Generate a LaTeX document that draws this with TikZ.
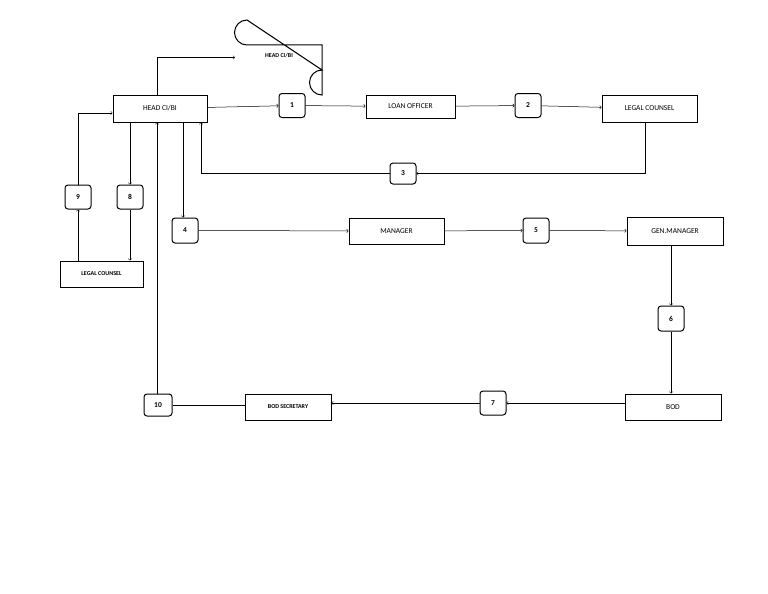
\documentclass[tikz,border=0pt]{standalone}
\usepackage{fontspec}
\setmainfont{Carlito}
\begin{document}
\begin{tikzpicture}[x=1pt,y=-1pt,
 box/.style={draw,line width=1pt,minimum height=26pt,inner sep=0pt,font=\fontsize{7.5}{8}\selectfont},
 num/.style={draw,line width=1pt,rounded corners=3pt,minimum width=26pt,minimum height=24pt,inner sep=0pt,font=\fontsize{7.5}{8}\selectfont\bfseries},
 ar/.style={->,>=to,line width=0.5pt},
 ln/.style={line width=0.5pt}]
\useasboundingbox (0,0) rectangle (768,594);
\node[box,minimum width=94pt,minimum height=27pt] (h) at (160,108.5) {HEAD CI/BI};
\node[num] (n1) at (292,105.5) {1};
\node[box,minimum width=89pt,minimum height=23pt] (lo) at (410.5,106.5) {LOAN OFFICER};
\node[num] (n2) at (528,105.5) {2};
\node[box,minimum width=95pt,minimum height=27pt] (lc) at (649.5,108.5) {LEGAL COUNSEL};
\node[num,minimum height=21pt] (n3) at (403,173.5) {3};
\node[num,minimum height=25pt] (n4) at (185,230.5) {4};
\node[box,minimum width=95pt] (m) at (396.5,231) {MANAGER};
\node[num,minimum height=25pt] (n5) at (536,230.5) {5};
\node[box,minimum width=96pt,minimum height=28pt] (gm) at (675,231) {GEN.MANAGER};
\node[num,minimum height=25pt] (n6) at (671,318.5) {6};
\node[box,minimum width=96pt] (bod) at (673,407) {BOD};
\node[num] (n7) at (493,403) {7};
\node[box,minimum width=86pt,font=\fontsize{6}{7}\selectfont\bfseries] (bs) at (288,407) {BOD SECRETARY};
\node[num,minimum width=28pt,minimum height=22pt] (n10) at (158,405) {10};
\node[num] (n9) at (78,197) {9};
\node[num] (n8) at (130,197) {8};
\node[box,minimum width=83pt,font=\fontsize{6}{7}\selectfont\bfseries] (lc2) at (101.5,274) {LEGAL COUNSEL};
% storage
\draw[line width=1pt] (322,45) -- (247,45) arc (90:270:12.5) -- (322,70) arc (-90:-270:12.5 and 12.5) -- cycle;
\coordinate (st) at (235,57.5);
\node[font=\fontsize{6}{7}\selectfont\bfseries] (stl) at (279,55.5) {HEAD CI/BI};
\draw[ar] (h.north -| 157,0) |- (st);
\draw[ar] (h) -- (n1);
\draw[ar] (n1) -- (lo);
\draw[ar] (lo) -- (n2);
\draw[ar] (n2) -- (lc);
\draw[ar] (lc.south -| 645,0) |- (n3);
\draw[ar] (n3) -| (h.south -| 201,0);
\draw[ar] (h.south -| 183,0) -- (n4.north -| 183,0);
\draw[ar] (n4) -- (m);
\draw[ar] (m) -- (n5);
\draw[ar] (n5) -- (gm);
\draw[ar] (gm.south -| 671,0) -- (n6);
\draw[ar] (n6) -- (bod.north -| 671,0);
\draw[ar] (bod.west |- n7) -- (n7);
\draw[ar] (n7) -- (bs.east |- n7);
\draw[ln] (bs.west |- n10) -- (n10);
\draw[ar] (n10.north -| 157,0) -- (h.south -| 157,0);
\draw[ar] (h.south -| 130,0) -- (n8);
\draw[ar] (n8) -- (lc2.north -| 130,0);
\draw[ar] (lc2.north -| 78,0) -- (n9);
\draw[ar] (n9) |- (h.west |- 0,113);
\end{tikzpicture}
\end{document}
